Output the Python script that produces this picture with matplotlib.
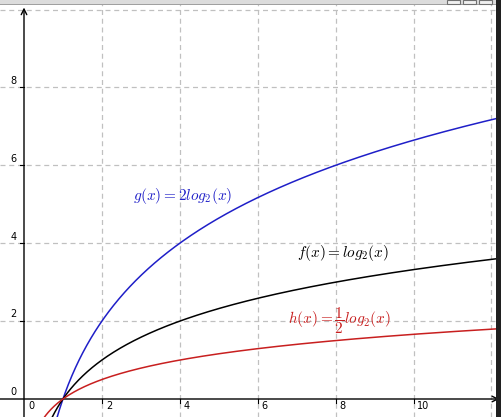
import numpy as np
import matplotlib
matplotlib.use("Agg")
import matplotlib.pyplot as plt
from matplotlib.patches import Rectangle

# coefficients of the functions a*log2(x)
names = ["g", "f", "h"]
coefs = [2.0, 1.0, 0.5]
colors = ["#1f1fc8", "#000000", "#c81f1f"]
labels = [r"$g(x) = 2log_2(x)$", r"$f(x) = log_2(x)$", r"$h(x) = \dfrac{1}{2}log_2(x)$"]
label_pos = [(2.8, 5.2), (7.0, 3.75), (6.78, 2.0)]
xticks = [0, 2, 4, 6, 8, 10]
yticks = [0, 2, 4, 6, 8]

W, H = 501, 417
px = 38.95  # pixels per unit
x0_px, y0_px = 24, 399

plt.rcParams["mathtext.fontset"] = "cm"
fig = plt.figure(figsize=(W / 100, H / 100), dpi=100)
ax = fig.add_axes([0, 0, 1, 1])
ax.set_xlim(-x0_px / px, (W - x0_px) / px)
ax.set_ylim(-(H - y0_px) / px, y0_px / px)
ax.axis("off")

# grid
for g in range(2, 13, 2):
    ax.axvline(g, color="#c0c0c0", lw=0.9, ls=(0, (4, 3)), zorder=1)
for g in range(2, 11, 2):
    ax.axhline(g, color="#c0c0c0", lw=0.9, ls=(0, (4, 3)), zorder=1)

# axes with arrows
ax.annotate("", xy=(12.2, 0), xytext=(-1, 0),
            arrowprops=dict(arrowstyle="->", color="black", lw=1, shrinkA=0, shrinkB=0), zorder=3)
ax.annotate("", xy=(0, 10.05), xytext=(0, -1),
            arrowprops=dict(arrowstyle="->", color="black", lw=1, shrinkA=0, shrinkB=0), zorder=3)

# ticks and labels
for t in xticks:
    if t != 0:
        ax.plot([t, t], [0, -0.1], color="black", lw=0.8)
    ax.text(t + 0.1, -0.18, str(t), fontsize=7, ha="left", va="center")
for t in yticks:
    if t != 0:
        ax.plot([0, -0.1], [t, t], color="black", lw=0.8)
    ax.text(-0.2, t + 0.17, str(t), fontsize=7, ha="right", va="center")

# curves
x = np.linspace(0.3, 12.5, 800)
for c, col in zip(coefs, colors):
    ax.plot(x, c * np.log2(x), color=col, lw=1.1, zorder=4)

for lab, (lx, ly), col in zip(labels, label_pos, colors):
    ax.text(lx, ly, lab, color=col, fontsize=11, ha="left", va="center", zorder=5)

# window chrome
fig.patches.append(Rectangle((0, 1 - 4 / H), 1, 4 / H, transform=fig.transFigure,
                             facecolor="#dcdcdc", edgecolor="none"))
fig.patches.append(Rectangle((0, 1 - 5 / H), 1, 1 / H, transform=fig.transFigure,
                             facecolor="#a0a0a0", edgecolor="none"))
for bx in [447, 463, 479]:
    fig.patches.append(Rectangle((bx / W, 1 - 4 / H), 13 / W, 4 / H, transform=fig.transFigure,
                                 facecolor="#f0f0f0", edgecolor="#707070", lw=0.8))
fig.patches.append(Rectangle((496 / W, 0), 5 / W, 1, transform=fig.transFigure,
                             facecolor="#202020", edgecolor="none"))

fig.savefig("out.png", dpi=100)
